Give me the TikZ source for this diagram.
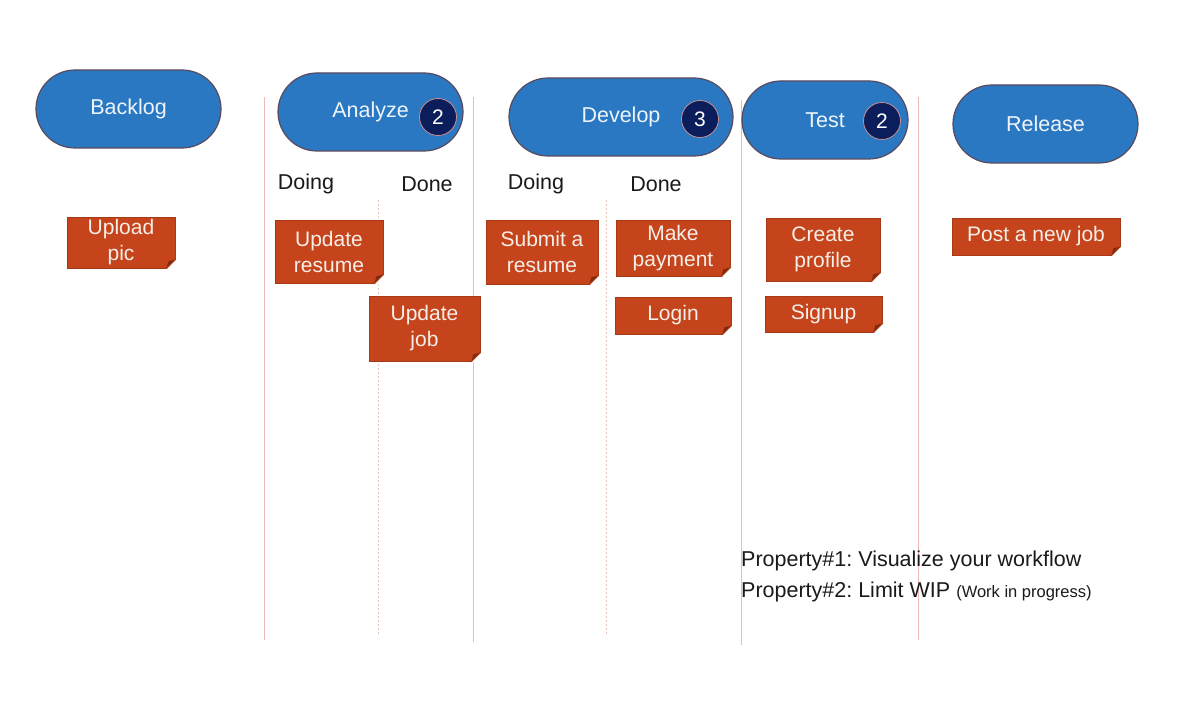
\documentclass[tikz,border=0pt]{standalone}
\usepackage{fontspec}
\setmainfont{Liberation Sans}
\frenchspacing
\usetikzlibrary{shapes.misc,calc}
\definecolor{pillblue}{HTML}{2A78C2}
\definecolor{pilledge}{HTML}{5A4A5E}
\definecolor{badgefill}{HTML}{0B1E5B}
\definecolor{badgeedge}{HTML}{C89090}
\definecolor{cardfill}{HTML}{C6441C}
\definecolor{cardedge}{HTML}{A63A16}
\definecolor{folddark}{HTML}{7E2A10}
\definecolor{cardtext}{HTML}{F6EEE8}
\definecolor{laneline}{HTML}{EDBCAC}
\definecolor{subline}{HTML}{E6C4BA}
\definecolor{inktext}{HTML}{1A1A1A}
\tikzset{
  pill/.style={rounded rectangle, fill=pillblue, draw=pilledge, line width=1.2pt,
    minimum height=78pt, inner sep=0pt, text=white!92!pillblue,
    font=\fontsize{21.5}{25}\selectfont},
  badge/.style={circle, fill=badgefill, draw=badgeedge, line width=0.8pt,
    minimum size=37pt, inner sep=0pt, text=white, font=\fontsize{21}{25}\selectfont},
  card/.style={rectangle, fill=cardfill, draw=cardedge, line width=0.8pt,
    inner sep=0pt, align=center, text=cardtext, font=\fontsize{21}{26}\selectfont},
  lane/.style={draw=laneline, line width=0.9pt},
  sublane/.style={draw=subline, line width=0.9pt, dash pattern=on 2pt off 2pt},
  collabel/.style={inner sep=0pt, text=inktext, font=\fontsize{21.5}{25}\selectfont},
  proptext/.style={inner sep=0pt, anchor=west, text=inktext, font=\fontsize{21.5}{25}\selectfont}
}
\newcommand\kcard[6]{%
  \node[card, minimum width=#4pt, minimum height=#5pt] (#1) at (#2,#3) {#6};
  \fill[white] ($(#1.south east)+(-9pt,-1pt)$) -- ($(#1.south east)+(1pt,-1pt)$) -- ($(#1.south east)+(1pt,9pt)$) -- cycle;
  \fill[folddark] ($(#1.south east)+(-9pt,0pt)$) -- ($(#1.south east)+(0pt,9pt)$) -- ($(#1.south east)+(-7pt,7pt)$) -- cycle;
  \draw[cardedge, line width=0.8pt] ($(#1.south east)+(-9pt,0pt)$) -- ($(#1.south east)+(0pt,9pt)$);
}
\begin{document}
\begin{tikzpicture}[x=1pt,y=-1pt]
\useasboundingbox[fill=white] (0,0) rectangle (1200,708);

% lane lines
\coordinate (l1t) at (264,97);  \coordinate (l1b) at (264,640);
\coordinate (l2t) at (473,97);  \coordinate (l2b) at (473,642);
\coordinate (l3t) at (741,100); \coordinate (l3b) at (741,645);
\coordinate (l4t) at (918,97);  \coordinate (l4b) at (918,640);
\coordinate (d1t) at (378,200); \coordinate (d1b) at (378,635);
\coordinate (d2t) at (606,200); \coordinate (d2b) at (606,635);
\draw[lane] (l1t) -- (l1b);
\draw[lane] (l2t) -- (l2b);
\draw[lane] (l3t) -- (l3b);
\draw[lane] (l4t) -- (l4b);
\draw[sublane] (d1t) -- (d1b);
\draw[sublane] (d2t) -- (d2b);

% column headers
\node[pill, minimum width=185pt] (backlog) at (128.5,109) {\raisebox{-2pt}{Backlog}};
\node[pill, minimum width=185pt] (analyze) at (370.5,112) {\raisebox{-2pt}{Analyze}};
\node[pill, minimum width=224pt] (develop) at (621,117) {\raisebox{-2pt}{Develop}};
\node[pill, minimum width=166pt] (test) at (825,120) {\raisebox{-2pt}{Test}};
\node[pill, minimum width=185pt] (release) at (1045.5,124) {\raisebox{-2pt}{Release}};

\node[badge] (banalyze) at (438,117) {2};
\node[badge] (bdevelop) at (700,119) {3};
\node[badge] (btest) at (882,121) {2};

% sub-column labels
\node[collabel] (doing1) at (306,184) {Doing};
\node[collabel] (done1) at (427,184) {Done};
\node[collabel] (doing2) at (536,184) {Doing};
\node[collabel] (done2) at (656,184) {Done};

% cards
\kcard{upload}{121}{242.5}{108}{51}{Upload\\pic}
\kcard{resume}{329}{251.5}{108}{63}{Update\\resume}
\kcard{job}{424.5}{328.5}{111}{65}{Update\\job}
\kcard{submit}{542}{252}{112}{64}{Submit a\\resume}
\kcard{payment}{673}{248}{114}{56}{Make\\payment}
\kcard{login}{673}{315.5}{116}{37}{Login}
\kcard{create}{823}{249.5}{114}{63}{Create\\profile}
\kcard{signup}{823.5}{314}{117}{36}{Signup}
\kcard{post}{1036}{236.5}{168}{37}{Post a new job}

% properties
\node[proptext] (prop1) at (741,561) {Property\#1: Visualize your workflow};
\node[proptext] (prop2) at (741,592) {Property\#2: Limit WIP {\fontsize{16.5}{20}\selectfont (Work in progress)}};
\end{tikzpicture}
\end{document}
